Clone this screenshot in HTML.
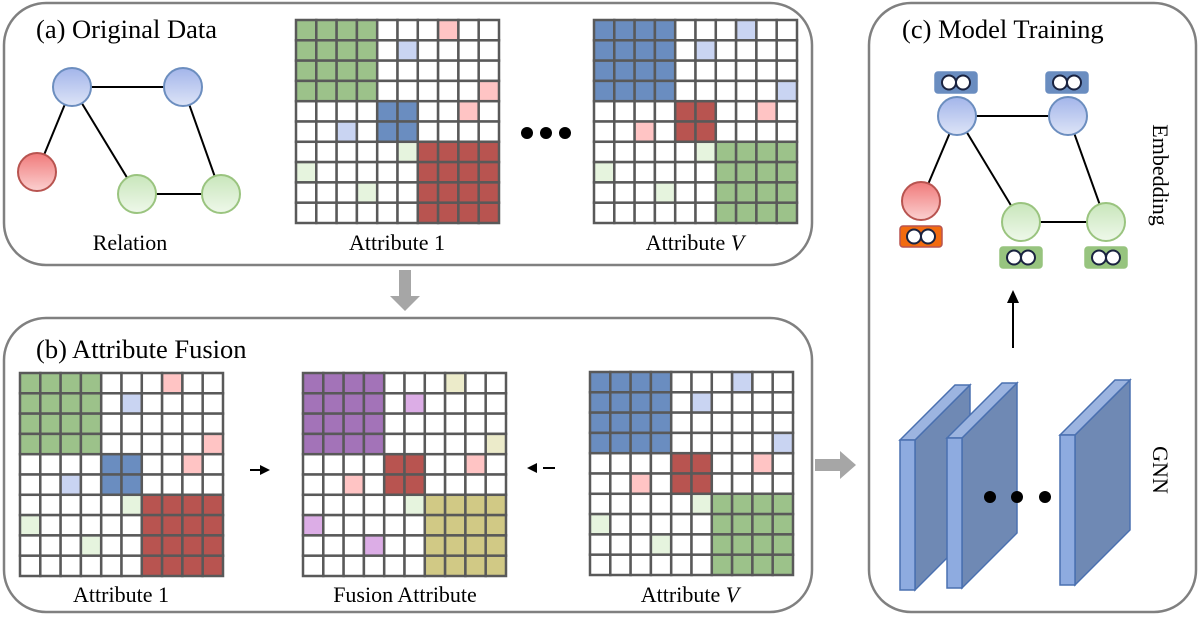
<!DOCTYPE html>
<html><head><meta charset="utf-8"><style>
html,body{margin:0;padding:0;background:#fff;}
svg{display:block;font-family:"Liberation Serif",serif;}
</style></head><body>
<svg id="s" width="1199" height="618" viewBox="0 0 1199 618" xmlns="http://www.w3.org/2000/svg">
<defs>
<linearGradient id="gb" x1="0" y1="0" x2="0" y2="1"><stop offset="0" stop-color="#a3b5ea"/><stop offset="1" stop-color="#dde4f7"/></linearGradient>
<linearGradient id="gr" x1="0" y1="0" x2="0" y2="1"><stop offset="0" stop-color="#f07a7a"/><stop offset="1" stop-color="#fbd0d0"/></linearGradient>
<linearGradient id="gg" x1="0" y1="0" x2="0" y2="1"><stop offset="0" stop-color="#c8e6bb"/><stop offset="1" stop-color="#eef8ea"/></linearGradient>
</defs>
<rect x="4" y="3" width="808" height="262" rx="42" fill="#fff" stroke="#808080" stroke-width="2.5"/>
<rect x="4" y="318" width="808" height="294" rx="42" fill="#fff" stroke="#808080" stroke-width="2.5"/>
<rect x="869" y="3" width="327" height="609" rx="42" fill="#fff" stroke="#808080" stroke-width="2.5"/>
<text x="36" y="38" font-size="26.5">(a) Original Data</text>
<text x="36" y="358" font-size="26.5">(b) Attribute Fusion</text>
<text x="902" y="38" font-size="26.5">(c) Model Training</text>
<g stroke="#000" stroke-width="2">
<line x1="72" y1="87" x2="183" y2="87"/><line x1="72" y1="87" x2="37" y2="172"/><line x1="72" y1="87" x2="137" y2="194"/>
<line x1="183" y1="87" x2="221" y2="194"/><line x1="137" y1="194" x2="221" y2="194"/>
<line x1="957" y1="116" x2="1068" y2="116"/><line x1="957" y1="116" x2="921" y2="201"/><line x1="957" y1="116" x2="1021" y2="222"/>
<line x1="1068" y1="116" x2="1106" y2="222"/><line x1="1021" y1="222" x2="1106" y2="222"/>
</g>
<g stroke-width="2">
<circle cx="72" cy="87" r="19" fill="url(#gb)" stroke="#6c8ebf"/><circle cx="183" cy="87" r="19" fill="url(#gb)" stroke="#6c8ebf"/>
<circle cx="37" cy="172" r="19" fill="url(#gr)" stroke="#b85450"/><circle cx="137" cy="194" r="19" fill="url(#gg)" stroke="#9ac47f"/><circle cx="221" cy="194" r="19" fill="url(#gg)" stroke="#9ac47f"/>
<circle cx="957" cy="116" r="19" fill="url(#gb)" stroke="#6c8ebf"/><circle cx="1068" cy="116" r="19" fill="url(#gb)" stroke="#6c8ebf"/>
<circle cx="921" cy="201" r="19" fill="url(#gr)" stroke="#b85450"/><circle cx="1021" cy="222" r="19" fill="url(#gg)" stroke="#9ac47f"/><circle cx="1106" cy="222" r="19" fill="url(#gg)" stroke="#9ac47f"/>
</g>
<g id="emb"></g>
<text x="130" y="250" font-size="22" text-anchor="middle">Relation</text>
<text x="397" y="250" font-size="22" text-anchor="middle">Attribute 1</text>
<text x="695" y="250" font-size="22" text-anchor="middle">Attribute <tspan font-style="italic">V</tspan></text>
<text x="121" y="602" font-size="22" text-anchor="middle">Attribute 1</text>
<text x="405" y="602" font-size="22" text-anchor="middle">Fusion Attribute</text>
<text x="690" y="602" font-size="22" text-anchor="middle">Attribute <tspan font-style="italic">V</tspan></text>
<text font-size="22" text-anchor="middle" transform="translate(1153,175) rotate(90)">Embedding</text>
<text font-size="22" text-anchor="middle" transform="translate(1153,470) rotate(90)">GNN</text>
<g fill="#000"><circle cx="527" cy="133" r="6"/><circle cx="546" cy="133" r="6"/><circle cx="565" cy="133" r="6"/></g>
<g id="grids"></g>
<polygon points="399,270 411,270 411,296 420,296 405,311 390,296 399,296" fill="#a6a6a6"/>
<polygon points="815,459 840,459 840,451 856,465 840,479 840,471 815,471" fill="#a6a6a6"/>
<g stroke="#000" stroke-width="2"><line x1="250" y1="470" x2="262" y2="470"/><line x1="543" y1="468" x2="555" y2="468"/><line x1="1013" y1="348" x2="1013" y2="300"/></g>
<polygon points="270,470 260,465 260,475" fill="#000"/>
<polygon points="527,468 537,463 537,473" fill="#000"/>
<polygon points="1013,290 1007,303 1019,303" fill="#000"/>
<g id="gnn"></g>
</svg>
<script>
var NS="http://www.w3.org/2000/svg";
function el(p,t,a){var e=document.createElementNS(NS,t);for(var k in a)e.setAttribute(k,a[k]);p.appendChild(e);return e;}
var G=document.getElementById("grids");
var C={g:"#9cc28a",b:"#6a8dc0",r:"#b85450",p:"#a373b8",o:"#d1c985",lp:"#ffc4c4",lb:"#c9d4f2",lg:"#e6f4de",lo:"#ecebca",lv:"#dcade6"};
function pat(tl,mid,br,sm){var m=[];for(var r=0;r<10;r++){m[r]=[];for(var c=0;c<10;c++){var v=null;if(r<4&&c<4)v=tl;else if(r>=4&&r<6&&c>=4&&c<6)v=mid;else if(r>=6&&c>=6)v=br;m[r][c]=v;}}
for(var k in sm)sm[k].forEach(function(p){m[p[0]][p[1]]=k;});return m;}
var A=pat("g","b","r",{lp:[[0,7],[3,9],[4,8]],lb:[[1,5],[5,2]],lg:[[6,5],[7,0],[8,3]]});
var V=pat("b","r","g",{lb:[[0,7],[1,5],[3,9]],lp:[[4,8],[5,2]],lg:[[6,5],[7,0],[8,3]]});
var F=pat("p","r","o",{lo:[[0,7],[3,9]],lv:[[1,5],[7,0],[8,3]],lp:[[4,8],[5,2]],lg:[[6,5]]});
function grid(x,y,s,m){var c=s/10;for(var r=0;r<10;r++)for(var q=0;q<10;q++){el(G,"rect",{x:x+q*c,y:y+r*c,width:c,height:c,fill:m[r][q]?C[m[r][q]]:"#fff",stroke:"#595959","stroke-width":2.5});}}
grid(296,20,203,A);grid(594,20,203,V);grid(20,373,203,A);grid(303,373,203,F);grid(590,372,203,V);
var E=document.getElementById("emb");
function emb(x,y,f,s){el(E,"rect",{x:x,y:y,width:42,height:21,rx:3,fill:f,stroke:s,"stroke-width":1.5});el(E,"circle",{cx:x+14,cy:y+10.5,r:7,fill:"#fff",stroke:"#1a2340","stroke-width":2});el(E,"circle",{cx:x+28,cy:y+10.5,r:7,fill:"#fff",stroke:"#1a2340","stroke-width":2});}
emb(935,72,"#6a8dc0","#6a8dc0");emb(1046,72,"#6a8dc0","#6a8dc0");emb(900,226,"#f26b0f","#b85450");emb(1000,247,"#97c47f","#97c47f");emb(1085,247,"#97c47f","#97c47f");
var N=document.getElementById("gnn");
function slab(x,y,h){var w=15,d=55;
el(N,"polygon",{points:[x+w,y,x+w+d,y-d,x+w+d,y+h-d,x+w,y+h].join(","),fill:"#6f89b4",stroke:"#4a70b0","stroke-width":1.5});
el(N,"polygon",{points:[x,y,x+d,y-d,x+w+d,y-d,x+w,y].join(","),fill:"#9cb4e0",stroke:"#4a70b0","stroke-width":1.5});
el(N,"rect",{x:x,y:y,width:w,height:h,fill:"#8eabe0",stroke:"#4a70b0","stroke-width":1.5});}
slab(900,440,150);slab(947,438,150);
[990,1017,1045].forEach(function(cx){el(N,"circle",{cx:cx,cy:497,r:6,fill:"#000"});});
slab(1060,435,150);
</script>
</body></html>
